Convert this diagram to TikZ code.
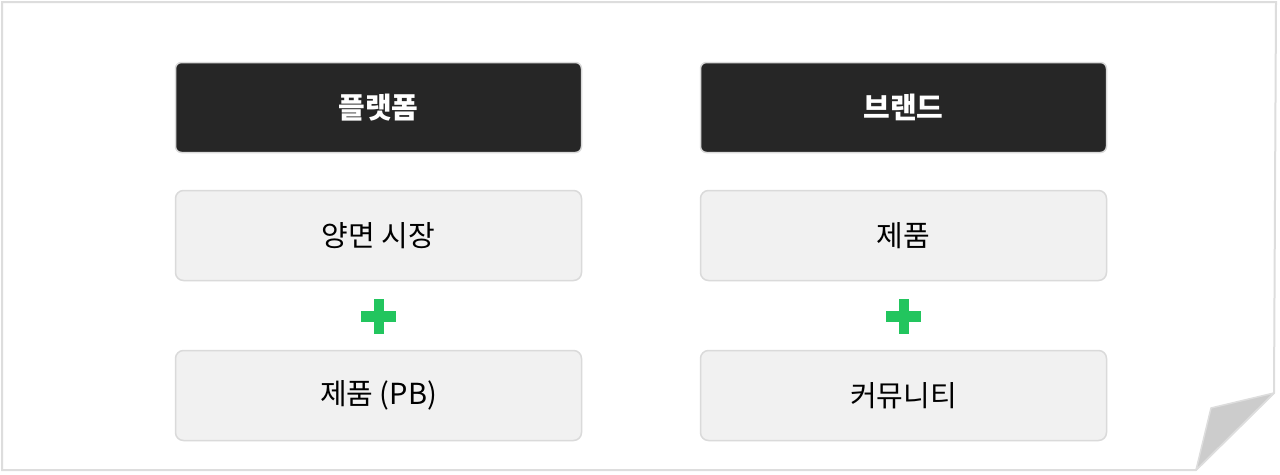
\documentclass[tikz,border=0pt]{standalone}
\usepackage{fontspec}
\newfontfamily\kr{Noto Sans CJK KR}
\definecolor{hdr}{HTML}{262626}
\definecolor{boxfill}{HTML}{F1F1F1}
\definecolor{boxline}{HTML}{DADADA}
\definecolor{plusgreen}{HTML}{22C55E}
\definecolor{frame}{HTML}{DDDDDD}
\definecolor{fold}{HTML}{CCCCCC}
\tikzset{
  hdrbox/.style={draw=boxline, line width=1.5pt, fill=hdr, rounded corners=6pt,
    minimum width=406pt, minimum height=90pt, text=white,
    font=\kr\bfseries\fontsize{29}{33}\selectfont},
  itembox/.style={draw=boxline, line width=1.5pt, fill=boxfill, rounded corners=8pt,
    minimum width=406pt, minimum height=90pt, text=black,
    font=\kr\fontsize{29}{33}\selectfont},
}
\begin{document}
\begin{tikzpicture}[x=1pt,y=-1pt]
\useasboundingbox (0,0) rectangle (1280,474);
% paper with folded corner
\draw[frame, line width=2pt, fill=white] (2,2) -- (1276,2) -- (1274,393) -- (1196,470) -- (2,470) -- cycle;
\draw[frame, line width=1.5pt, fill=fold, line join=round] (1274,393) -- (1211,408) -- (1196,470) -- cycle;
% left column
\node[hdrbox] (lh) at (378.5,107.5) {플랫폼};
\node[itembox] (l1) at (378.5,235.5) {양면 시장};
\node[itembox] (l2) at (378.5,395.5) {제품 (PB)};
% right column
\node[hdrbox] (rh) at (903.5,107.5) {브랜드};
\node[itembox] (r1) at (903.5,235.5) {제품};
\node[itembox] (r2) at (903.5,395.5) {커뮤니티};
% plus signs
\foreach \cx in {378.5,903.5}{
  \fill[plusgreen] (\cx-17.5,311) rectangle (\cx+17.5,322);
  \fill[plusgreen] (\cx-5,299) rectangle (\cx+5,334);
}
\end{tikzpicture}
\end{document}
